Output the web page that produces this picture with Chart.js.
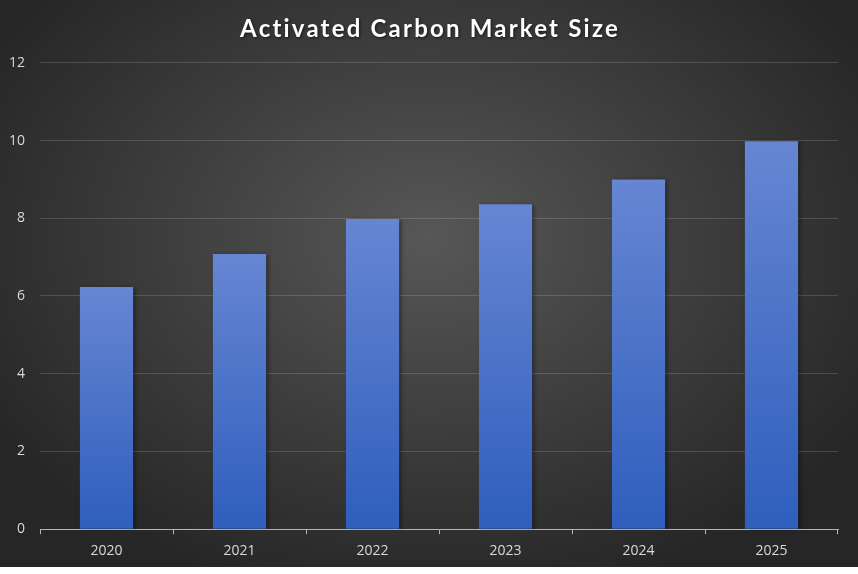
<!DOCTYPE html>
<html>
<head>
<meta charset="utf-8">
<script src="https://cdn.jsdelivr.net/npm/chart.js@4/dist/chart.umd.min.js"></script>
<style>
  html, body { margin: 0; padding: 0; background: #fff; }
  #wrap {
    width: 858px; height: 567px;
    background: radial-gradient(ellipse 60% 65% at 50% 42%, #575757 0%, #3c3c3c 55%, #262626 100%);
  }
</style>
</head>
<body>
<div id="wrap"><canvas id="chart" width="858" height="567"></canvas></div>
<script>
const years  = ["2020", "2021", "2022", "2023", "2024", "2025"];
const market = [6.23, 7.08, 7.98, 8.36, 9.0, 9.98];
const yTicks = [0, 2, 4, 6, 8, 10, 12];

const barShadow = {
  id: "barShadow",
  beforeDatasetsDraw(chart) {
    const c = chart.ctx;
    c.save();
    c.shadowColor = "rgba(0,0,0,0.45)";
    c.shadowBlur = 4;
    c.shadowOffsetX = 2;
    c.shadowOffsetY = 1;
  },
  afterDatasetsDraw(chart) { chart.ctx.restore(); }
};

// spaced out title with a soft shadow, centred on the whole canvas
const titleStyle = {
  id: "titleStyle",
  afterLayout(chart) {
    const t = chart.titleBlock;
    if (!t || t._styled) return;
    const orig = t.draw.bind(t);
    t.draw = function () {
      const c = chart.ctx;
      c.save();
      c.translate(chart.width / 2 - (t.left + t.right) / 2 + 1, 0);
      c.letterSpacing = "2.2px";
      c.shadowColor = "rgba(0,0,0,0.6)";
      c.shadowBlur = 3;
      c.shadowOffsetX = 1;
      c.shadowOffsetY = 1;
      orig();
      c.restore();
    };
    t._styled = true;
  }
};

new Chart(document.getElementById("chart"), {
  type: "bar",
  data: {
    labels: years,
    datasets: [{
      data: market,
      barPercentage: 0.4,
      categoryPercentage: 1,
      backgroundColor: ctx => {
        const chart = ctx.chart;
        if (!chart.chartArea || ctx.raw == null) return "#4a74cc";
        const y = chart.scales.y;
        const top = y.getPixelForValue(ctx.raw);
        const bot = y.getPixelForValue(0);
        const g = chart.ctx.createLinearGradient(0, top, 0, bot);
        g.addColorStop(0, "#6686d2");
        g.addColorStop(1, "#2f5ebd");
        return g;
      }
    }]
  },
  options: {
    responsive: false,
    animation: false,
    layout: { padding: { left: -6, right: 20, top: 8, bottom: 0 } },
    plugins: {
      legend: { display: false },
      tooltip: { enabled: false },
      title: {
        display: true,
        text: "Activated Carbon Market Size",
        color: "#ffffff",
        font: { family: "Lato", size: 24, weight: "bold" },
        padding: { top: 7, bottom: 19 }
      }
    },
    scales: {
      x: {
        border: { display: true, color: "#b5b5b5", width: 1 },
        grid: { offset: true, drawOnChartArea: false, drawTicks: true, tickLength: 5, color: "#b5b5b5" },
        ticks: { color: "#d9d9d9", font: { family: "Open Sans", size: 14 }, padding: 8 }
      },
      y: {
        min: 0, max: 12,
        afterBuildTicks: axis => { axis.ticks = yTicks.map(v => ({ value: v })); },
        border: { display: false },
        grid: { color: "rgba(255,255,255,0.15)", drawTicks: false },
        ticks: { color: "#d9d9d9", font: { family: "Open Sans", size: 14 }, padding: 15 }
      }
    }
  },
  plugins: [barShadow, titleStyle]
});
</script>
</body>
</html>
